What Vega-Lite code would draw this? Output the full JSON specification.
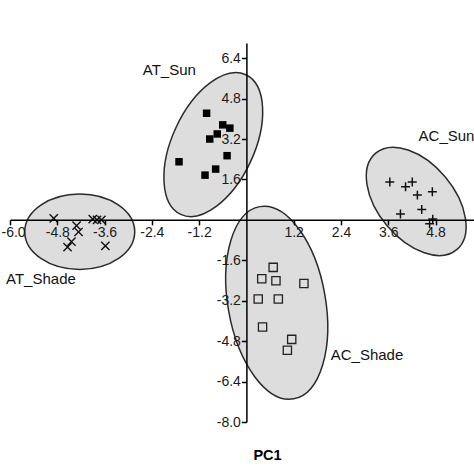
{
  "$schema": "https://vega.github.io/schema/vega-lite/v6.json",
  "width": 464,
  "height": 379,
  "autosize": "none",
  "padding": {"left": 10, "top": 43, "right": 0, "bottom": 52},
  "background": "white",
  "config": {"view": {"stroke": null}, "font": "Liberation Sans"},
  "datasets": {
    "pts": [
      {"pc1": -1.01, "pc2": 4.22, "group": "AT_Sun"},
      {"pc1": -0.60, "pc2": 3.76, "group": "AT_Sun"},
      {"pc1": -0.42, "pc2": 3.63, "group": "AT_Sun"},
      {"pc1": -0.74, "pc2": 3.40, "group": "AT_Sun"},
      {"pc1": -0.93, "pc2": 3.20, "group": "AT_Sun"},
      {"pc1": -0.49, "pc2": 2.54, "group": "AT_Sun"},
      {"pc1": -1.71, "pc2": 2.30, "group": "AT_Sun"},
      {"pc1": -0.78, "pc2": 2.01, "group": "AT_Sun"},
      {"pc1": -1.05, "pc2": 1.77, "group": "AT_Sun"},
      {"pc1": 0.68, "pc2": -1.88, "group": "AC_Shade"},
      {"pc1": 0.39, "pc2": -2.33, "group": "AC_Shade"},
      {"pc1": 0.75, "pc2": -2.41, "group": "AC_Shade"},
      {"pc1": 1.46, "pc2": -2.52, "group": "AC_Shade"},
      {"pc1": 0.30, "pc2": -3.13, "group": "AC_Shade"},
      {"pc1": 0.81, "pc2": -3.13, "group": "AC_Shade"},
      {"pc1": 0.41, "pc2": -4.24, "group": "AC_Shade"},
      {"pc1": 1.15, "pc2": -4.73, "group": "AC_Shade"},
      {"pc1": 1.04, "pc2": -5.16, "group": "AC_Shade"},
      {"pc1": 3.64, "pc2": 1.50, "group": "AC_Sun"},
      {"pc1": 4.04, "pc2": 1.31, "group": "AC_Sun"},
      {"pc1": 4.21, "pc2": 1.50, "group": "AC_Sun"},
      {"pc1": 4.34, "pc2": 0.98, "group": "AC_Sun"},
      {"pc1": 4.72, "pc2": 1.11, "group": "AC_Sun"},
      {"pc1": 4.45, "pc2": 0.41, "group": "AC_Sun"},
      {"pc1": 3.91, "pc2": 0.23, "group": "AC_Sun"},
      {"pc1": 4.73, "pc2": 0.03, "group": "AC_Sun"},
      {"pc1": 4.65, "pc2": -0.15, "group": "AC_Sun"},
      {"pc1": -4.89, "pc2": 0.06, "group": "AT_Shade"},
      {"pc1": -3.90, "pc2": 0.03, "group": "AT_Shade"},
      {"pc1": -3.79, "pc2": 0.00, "group": "AT_Shade"},
      {"pc1": -3.68, "pc2": 0.00, "group": "AT_Shade"},
      {"pc1": -4.31, "pc2": -0.23, "group": "AT_Shade"},
      {"pc1": -4.26, "pc2": -0.48, "group": "AT_Shade"},
      {"pc1": -4.44, "pc2": -0.86, "group": "AT_Shade"},
      {"pc1": -4.54, "pc2": -1.08, "group": "AT_Shade"},
      {"pc1": -3.58, "pc2": -1.03, "group": "AT_Shade"}
    ],
    "ell": [
      {"pc1": -4.23, "pc2": -0.47, "group": "AT_Shade"},
      {"pc1": -0.84, "pc2": 2.98, "group": "AT_Sun"},
      {"pc1": 4.31, "pc2": 0.73, "group": "AC_Sun"},
      {"pc1": 0.77, "pc2": -3.28, "group": "AC_Shade"}
    ],
    "lab": [
      {"pc1": -2.63, "pc2": 5.93, "label": "AT_Sun"},
      {"pc1": 4.37, "pc2": 3.32, "label": "AC_Sun"},
      {"pc1": -6.10, "pc2": -2.33, "label": "AT_Shade"},
      {"pc1": 2.14, "pc2": -5.36, "label": "AC_Shade"}
    ]
  },
  "encoding": {
    "x": {
      "field": "pc1",
      "type": "quantitative",
      "scale": {"domain": [-6, 5.777], "nice": false, "zero": false},
      "axis": {
        "orient": "bottom",
        "offset": -202.13,
        "zindex": 1,
        "grid": false,
        "values": [-6, -4.8, -3.6, -2.4, -1.2, 1.2, 2.4, 3.6, 4.8],
        "labelExpr": "replace(format(datum.value, '.1f'), '−', '-')",
        "domainColor": "#000",
        "domainWidth": 1.5,
        "tickColor": "#000",
        "tickWidth": 1.5,
        "tickSize": 5,
        "labelFont": "Liberation Sans",
        "labelFontSize": 14,
        "labelColor": "#1a1a1a",
        "labelPadding": 1,
        "labelFlush": true,
        "labelFlushOffset": 9,
        "labelOverlap": false,
        "labelBound": false,
        "title": "PC1",
        "titleFont": "Liberation Sans",
        "titleFontSize": 14.5,
        "titleFontWeight": "bold",
        "titleColor": "#000",
        "titleX": 257,
        "titleY": 236,
        "titleAlign": "center",
        "titleBaseline": "middle"
      }
    },
    "y": {
      "field": "pc2",
      "type": "quantitative",
      "scale": {"domain": [-8, 7], "nice": false, "zero": false},
      "axis": {
        "orient": "left",
        "offset": -236.4,
        "zindex": 1,
        "grid": false,
        "values": [6.4, 4.8, 3.2, 1.6, -1.6, -3.2, -4.8, -6.4, -8.0],
        "labelExpr": "replace(format(datum.value, '.1f'), '−', '-')",
        "domainColor": "#000",
        "domainWidth": 1.5,
        "tickColor": "#000",
        "tickWidth": 1.5,
        "tickSize": 5,
        "labelFont": "Liberation Sans",
        "labelFontSize": 14,
        "labelColor": "#1a1a1a",
        "labelPadding": 1,
        "labelFlush": false,
        "labelOverlap": false,
        "labelBound": false,
        "title": null
      }
    }
  },
  "layer": [
    {
      "data": {"name": "ell"},
      "transform": [{"filter": "datum.group === 'AT_Shade'"}],
      "mark": {"type": "point", "shape": "M -55 0 A 55 37.7 0 1 0 55 0 A 55 37.7 0 1 0 -55 0 Z", "size": 4, "angle": 0, "filled": true, "fill": "#dddddd", "stroke": "#2b2b2b", "strokeWidth": 1.5, "opacity": 1}
    },
    {
      "data": {"name": "ell"},
      "transform": [{"filter": "datum.group === 'AT_Sun'"}],
      "mark": {"type": "point", "shape": "M -77 0 A 77 41 0 1 0 77 0 A 77 41 0 1 0 -77 0 Z", "size": 4, "angle": 115, "filled": true, "fill": "#dddddd", "stroke": "#2b2b2b", "strokeWidth": 1.5, "opacity": 1}
    },
    {
      "data": {"name": "ell"},
      "transform": [{"filter": "datum.group === 'AC_Sun'"}],
      "mark": {"type": "point", "shape": "M -63 0 A 63 38 0 1 0 63 0 A 63 38 0 1 0 -63 0 Z", "size": 4, "angle": 50, "filled": true, "fill": "#dddddd", "stroke": "#2b2b2b", "strokeWidth": 1.5, "opacity": 1}
    },
    {
      "data": {"name": "ell"},
      "transform": [{"filter": "datum.group === 'AC_Shade'"}],
      "mark": {"type": "point", "shape": "M -97.6 0 A 97.6 48.8 0 1 0 97.6 0 A 97.6 48.8 0 1 0 -97.6 0 Z", "size": 4, "angle": 80, "filled": true, "fill": "#dddddd", "stroke": "#2b2b2b", "strokeWidth": 1.5, "opacity": 1}
    },
    {
      "data": {"name": "pts"},
      "transform": [{"filter": "datum.group === 'AT_Sun'"}],
      "mark": {"type": "point", "shape": "square", "size": 56, "filled": true, "color": "#000", "opacity": 1}
    },
    {
      "data": {"name": "pts"},
      "transform": [{"filter": "datum.group === 'AC_Shade'"}],
      "mark": {"type": "point", "shape": "square", "size": 68, "filled": false, "stroke": "#222", "strokeWidth": 1.3, "opacity": 1}
    },
    {
      "data": {"name": "pts"},
      "transform": [{"filter": "datum.group === 'AC_Sun'"}],
      "mark": {"type": "point", "shape": "M -1 0 L 1 0 M 0 -1 L 0 1", "size": 80, "filled": false, "stroke": "#111", "strokeWidth": 1.5, "opacity": 1}
    },
    {
      "data": {"name": "pts"},
      "transform": [{"filter": "datum.group === 'AT_Shade'"}],
      "mark": {"type": "point", "shape": "M -1 -1 L 1 1 M -1 1 L 1 -1", "size": 68, "filled": false, "stroke": "#111", "strokeWidth": 1.4, "opacity": 1}
    },
    {
      "data": {"name": "lab"},
      "mark": {"type": "text", "align": "left", "baseline": "middle", "font": "Liberation Sans", "fontSize": 15, "color": "#111"},
      "encoding": {"text": {"field": "label"}}
    }
  ]
}
